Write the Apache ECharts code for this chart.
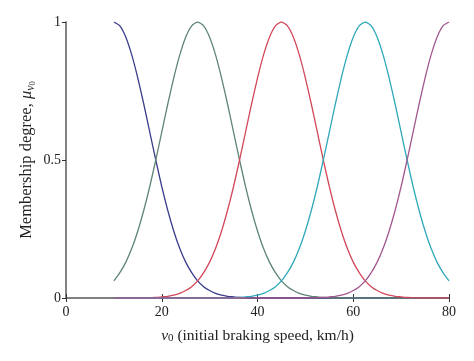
<!DOCTYPE html>
<html><head><meta charset="utf-8">
<script src="https://cdn.jsdelivr.net/npm/echarts@6/dist/echarts.min.js"></script>
<style>html,body{margin:0;padding:0;background:#fff}#c{width:474px;height:361px}</style>
</head><body><div id="c"></div>
<script>
var xs = [10,11.25,12.5,13.75,15,16.25,17.5,18.75,20,21.25,22.5,23.75,25,26.25,27.5,28.75,30,31.25,32.5,33.75,35,36.25,37.5,38.75,40,41.25,42.5,43.75,45,46.25,47.5,48.75,50,51.25,52.5,53.75,55,56.25,57.5,58.75,60,61.25,62.5,63.75,65,66.25,67.5,68.75,70,71.25,72.5,73.75,75,76.25,77.5,78.75,80];
var blue   = [1,0.986,0.945,0.880,0.797,0.702,0.601,0.500,0.404,0.318,0.243,0.180,0.130,0.092,0.062,0.041,0.027,0.017,0.010,0.006,0.004,0.002,0.001,
              0,0,0,0,0, 0,0,0,0,0, 0,0,0,0,0, 0,0,0,0,0, 0,0,0,0,0, 0,0,0,0,0, 0,0,0,0];
var green  = [0.062,0.092,0.130,0.180,0.243,0.318,0.404,0.500,0.601,0.702,0.797,0.880,0.945,0.986,1,
              0.986,0.945,0.880,0.797,0.702,0.601,0.500,0.404,0.318,0.243,0.180,0.130,0.092,0.062,0.041,0.027,0.017,0.010,0.006,0.004,0.002,0.001,
              0,0,0,0,0, 0,0,0,0,0, 0,0,0,0,0, 0,0,0,0,0];
var red    = [0,0,0,0,0,0,
              0.001,0.002,0.004,0.006,0.010,0.017,0.027,0.041,0.062,0.092,0.130,0.180,0.243,0.318,0.404,0.500,0.601,0.702,0.797,0.880,0.945,0.986,1,
              0.986,0.945,0.880,0.797,0.702,0.601,0.500,0.404,0.318,0.243,0.180,0.130,0.092,0.062,0.041,0.027,0.017,0.010,0.006,0.004,0.002,0.001,
              0,0,0,0,0,0];
var cyan   = [0,0,0,0,0, 0,0,0,0,0, 0,0,0,0,0, 0,0,0,0,0,
              0.001,0.002,0.004,0.006,0.010,0.017,0.027,0.041,0.062,0.092,0.130,0.180,0.243,0.318,0.404,0.500,0.601,0.702,0.797,0.880,0.945,0.986,1,
              0.986,0.945,0.880,0.797,0.702,0.601,0.500,0.404,0.318,0.243,0.180,0.130,0.092,0.062];
var purple = [0,0,0,0,0, 0,0,0,0,0, 0,0,0,0,0, 0,0,0,0,0, 0,0,0,0,0, 0,0,0,0,0, 0,0,0,0,
              0.001,0.002,0.004,0.006,0.010,0.017,0.027,0.041,0.062,0.092,0.130,0.180,0.243,0.318,0.404,0.500,0.601,0.702,0.797,0.880,0.945,0.986,1];
var xTicks = [0,20,40,60,80];
var yTicks = [0,0.5,1];

var F = 'Liberation Serif';
var axisCol = '#7a7a7a';
function pairs(v){ return xs.map(function(x,i){return [x,v[i]];}); }
function ser(name, v, col){
  return {name:name,type:'line',data:pairs(v),smooth:0.2,showSymbol:false,
    lineStyle:{color:col,width:1.3},clip:true,z:3};
}
var chart = echarts.init(document.getElementById('c'));
chart.setOption({
  animation:false,
  grid:{left:66,right:25,top:22,bottom:63},
  xAxis:[{type:'value',min:0,max:80,interval:20,
    name:'{i|v}{s|0} (initial braking speed, km/h)',nameLocation:'middle',nameGap:29,
    nameTextStyle:{fontFamily:F,fontSize:15.5,color:'#222',rich:{i:{fontFamily:F,fontStyle:'italic',fontSize:15.5,color:'#222'},s:{fontFamily:F,fontSize:11,color:'#222',verticalAlign:'bottom',padding:[6,0,0,0]}}},
    axisLine:{lineStyle:{color:axisCol,width:1.5}},
    axisTick:{inside:true,length:4,lineStyle:{color:'#333'}},
    axisLabel:{fontFamily:F,fontSize:14,color:'#222',margin:7,formatter:function(v){return xTicks.indexOf(v)>=0?String(v):'';}},
    splitLine:{show:false}},
   {type:'value',position:'top',min:0,max:80,interval:20,
    axisLine:{show:true,lineStyle:{color:axisCol,width:1.5}},
    axisTick:{inside:true,length:4,lineStyle:{color:'#333'}},axisLabel:{show:false},splitLine:{show:false}}],
  yAxis:[{type:'value',min:0,max:1,interval:0.5,
    name:'Membership degree, {i|μ}{s|v}{ss|0}',nameLocation:'middle',nameGap:29,nameMoveOverlap:false,
    nameTextStyle:{fontFamily:F,fontSize:16.5,color:'#222',rich:{i:{fontFamily:F,fontStyle:'italic',fontSize:16.5,color:'#222'},s:{fontFamily:F,fontStyle:'italic',fontSize:12,color:'#222',verticalAlign:'bottom',padding:[6,0,0,0]},ss:{fontFamily:F,fontSize:8.5,color:'#222',verticalAlign:'bottom',padding:[11,0,0,0]}}},
    axisLine:{show:true,lineStyle:{color:axisCol,width:1.5}},
    axisTick:{show:true,inside:false,length:3,lineStyle:{color:'#333'}},
    axisLabel:{fontFamily:F,fontSize:14,color:'#222',margin:5,formatter:function(v){return yTicks.indexOf(v)>=0?String(v):'';}},
    splitLine:{show:false}},
   {type:'value',position:'right',min:0,max:1,interval:0.5,
    axisLine:{show:true,lineStyle:{color:axisCol,width:1.5}},
    axisTick:{show:true,inside:true,length:4,lineStyle:{color:'#333'}},axisLabel:{show:false},splitLine:{show:false}}],
  series:[ser('blue',blue,'#3a3d8c'),ser('green',green,'#5e8575'),ser('red',red,'#d2475a'),ser('cyan',cyan,'#2fa9ba'),ser('purple',purple,'#a2588e')]
});
</script></body></html>
